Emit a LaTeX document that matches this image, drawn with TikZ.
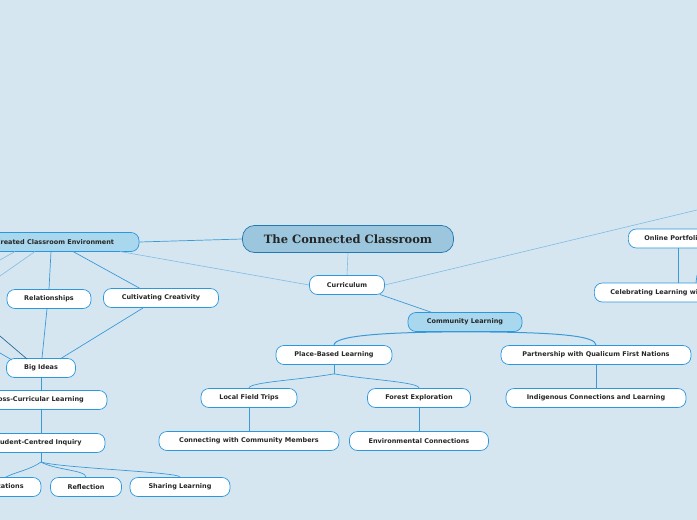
\documentclass[tikz,border=0pt]{standalone}
\usepackage{fontspec}
\setmainfont{DejaVu Sans}
\newfontfamily\titlefont{DejaVu Serif}
\definecolor{bg}{HTML}{D5E6F1}
\definecolor{bd}{HTML}{2B97DD}
\definecolor{ln}{HTML}{3A9AD8}
\definecolor{lt}{HTML}{7FBCE6}
\definecolor{mainf}{HTML}{A9D8EE}
\definecolor{titf}{HTML}{9CC6DD}
\begin{document}
\begin{tikzpicture}[x=1pt,y=-1pt,
  box/.style={draw=bd,fill=white,rounded corners=8pt,line width=0.7pt,font=\bfseries\fontsize{6.5}{7}\selectfont,minimum height=19pt,inner xsep=0pt,text=black!85},
  mainbox/.style={box,fill=mainf},
  edge/.style={draw=ln,line width=0.7pt},
  ledge/.style={draw=lt,line width=0.6pt}]
\clip (0,0) rectangle (697,520);
\fill[bg] (0,0) rectangle (697,520);
\node[box,fill=titf,draw=bd!80!black,minimum width=211pt,minimum height=27pt,rounded corners=12pt,font=\titlefont\bfseries\fontsize{11.5}{13}\selectfont] (title) at (348,239) {The Connected Classroom};
\node[mainbox,minimum width=180pt] (coc) at (49,242) {Co-Created Classroom Environment};
\node[box,minimum width=84pt] (rel) at (49,299) {Relationships};
\node[box,minimum width=115pt] (cre) at (161,298) {Cultivating Creativity};
\node[box,minimum width=69pt] (big) at (41,368) {Big Ideas};
\node[box,minimum width=140pt] (cross) at (37,400) {Cross-Curricular Learning};
\node[box,minimum width=136pt] (stu) at (37,443) {Student-Centred Inquiry};
\node[box,minimum width=80pt] (app) at (1,487) {Applications};
\node[box,minimum width=71pt] (ref) at (86,487) {Reflection};
\node[box,minimum width=100pt] (sha) at (180,487) {Sharing Learning};
\node[box,minimum width=75pt] (cur) at (347,285) {Curriculum};
\node[mainbox,minimum width=114pt] (com) at (465,322) {Community Learning};
\node[box,minimum width=116pt] (pla) at (334,355) {Place-Based Learning};
\node[box,minimum width=190pt] (par) at (596,355) {Partnership with Qualicum First Nations};
\node[box,minimum width=96pt] (loc) at (249,398) {Local Field Trips};
\node[box,minimum width=103pt] (for) at (419,398) {Forest Exploration};
\node[box,minimum width=180pt] (ind) at (596,398) {Indigenous Connections and Learning};
\node[box,minimum width=180pt] (con) at (249,441) {Connecting with Community Members};
\node[box,minimum width=139pt] (env) at (419,441) {Environmental Connections};
\node[box,anchor=west,inner xsep=16pt] (onl) at (628,238.5) {Online Portfolios};
\node[box,anchor=west,inner xsep=16pt] (cel) at (594,292.5) {Celebrating Learning with Families};
\coordinate (tr) at (697,210);
\coordinate (l1) at (0,260);
\coordinate (l2) at (0,276);
\coordinate (l3) at (0,336);
\coordinate (l4) at (0,353);
\coordinate (r1) at (697,275);
% edges
\draw[edge] (coc.east) -- (title.west);
\draw[ledge] (title.south) -- (cur.north);
\draw[ledge] (120,251.5) -- (cur.west);
\draw[ledge] (cur.east) -- (tr);
\draw[ledge] (35,251.5) -- (l2);
\draw[ledge] (15,251.5) -- (l1);
\draw[edge] (51,251.5) -- (rel.north);
\draw[edge] (73,251.5) -- (141,289);
\draw[edge] ([xshift=-2pt]rel.south) -- ([xshift=1pt]big.north);
\draw[edge] (143,308) -- (60,359);
\draw[edge,draw=ln!70!black] (l3) -- (27,359);
\draw[edge] (l4) -- (12,360);
\draw[edge] (big.south) -- (big.south |- cross.north);
\draw[edge,line width=1pt] (41,409.5) -- (41,433.5);
\draw[edge,line width=1pt] (41,452.5) -- (41,462) coordinate (sj);
\draw[edge] (sj) .. controls (30,470) and (15,472) .. (5,477.5);
\draw[edge] (sj) .. controls (55,470) and (86,470) .. (ref.north);
\draw[edge] (sj) .. controls (60,468) and (180,472) .. (sha.north);
\draw[edge] (380,294.5) -- (432,312.5);
\draw[edge,line width=1pt] (com.south) .. controls (380,332) and (334,336) .. (pla.north);
\draw[edge,line width=1pt] (com.south) .. controls (560,332) and (596,336) .. (par.north);
\draw[edge,line width=1pt] (pla.south) -- ++(0,9) coordinate (pj);
\draw[edge] (pj) .. controls (300,380) and (249,382) .. (loc.north);
\draw[edge] (pj) .. controls (370,380) and (419,382) .. (for.north);
\draw[edge] (loc.south) -- (con.north);
\draw[edge] (for.south) -- (env.north);
\draw[edge] (par.south) -- (ind.north);
\draw[edge] (678,248) -- (678,283);
\draw[edge] (696,283) -- (r1);
\end{tikzpicture}
\end{document}
